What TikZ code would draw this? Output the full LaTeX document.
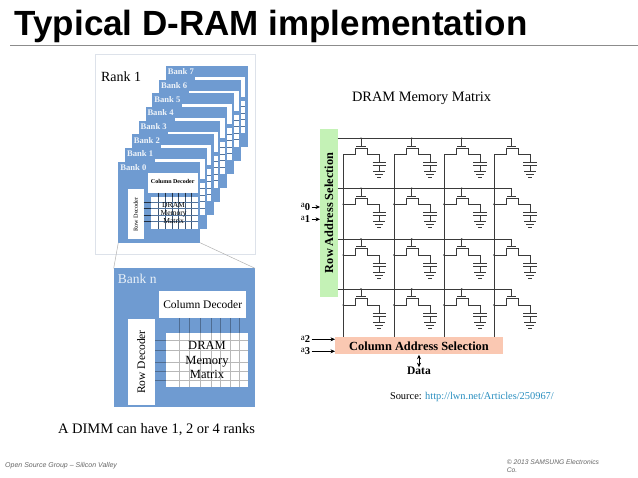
\documentclass[tikz,border=0pt]{standalone}
\usepackage{fontspec}
\setmainfont{Liberation Serif}
\setsansfont{Liberation Sans}
\usetikzlibrary{arrows.meta}
\definecolor{bankblue}{HTML}{6F9BD1}
\definecolor{framegray}{HTML}{DDE2EA}
\definecolor{rowgreen}{HTML}{C4F2B6}
\definecolor{colpeach}{HTML}{FAC8B2}
\definecolor{linkblue}{HTML}{2A8FC0}
\definecolor{wire}{HTML}{3A3A3A}
\tikzset{
  txt/.style={inner sep=0pt,outer sep=0pt,text=black,font=\fontsize{#1}{#1}\selectfont},
  banklabel/.style={inner sep=0pt,anchor=west,text=white!88!bankblue,font=\fontsize{8.6}{9}\selectfont\bfseries},
  wireline/.style={draw=wire,line width=.55pt},
  arrowline/.style={draw=black,line width=.6pt,-{Stealth[length=4.5pt,width=4pt]}},
  leader/.style={draw=black!30,line width=.5pt},
  addr/.style={inner sep=0pt,font=\fontsize{9}{10}\selectfont},
  foot/.style={inner sep=0pt,anchor=west,text=black!60,font=\fontsize{#1}{8}\selectfont\sffamily\itshape},
}
% large bank, local pixel coordinates
\newcommand{\bankbody}[3]{%
  \fill[bankblue] (0,0) rectangle (141.3,139);
  \fill[white] (45.6,23) rectangle (132.3,50);
  \fill[white] (14,50.7) rectangle (41.3,137);
  \fill[white] (52.6,64.4) rectangle (134.3,118.7);
  \foreach \gx in {65.6,75.3,86.6,97.9,106.9,116.6,125.6}{
    \draw[draw=#1,line width=#2] (\gx,50) -- (\gx,64.4);
    \draw[draw=#3,line width=#2] (\gx,64.4) -- (\gx,118.7);
  }
  \foreach \gy in {72.4,81.7,93.7,103,112.4}{
    \draw[draw=#1,line width=#2] (41.3,\gy) -- (52.6,\gy);
    \draw[draw=#3,line width=#2] (52.6,\gy) -- (134.3,\gy);
  }
}
% small bank of the stack, local pixel coordinates
\newcommand{\smallbank}{%
  \fill[bankblue] (0,0) rectangle (81.7,81);
  \fill[white] (29.4,11) rectangle (79.4,31);
  \fill[white] (9.7,27.6) rectangle (25.4,77.6);
  \fill[white] (32.4,35) rectangle (79.4,67);
  \foreach \gx in {40,47,53.7,60,66.7,73.3}{
    \draw[draw=black!70!bankblue,line width=.45pt] (\gx,31) -- (\gx,35);
    \draw[draw=black!45!bankblue,line width=.45pt] (\gx,35) -- (\gx,67);
  }
  \foreach \gy in {40.5,47,53.5,60}{
    \draw[draw=black!70!bankblue,line width=.45pt] (25.4,\gy) -- (32.4,\gy);
    \draw[draw=black!25!bankblue,line width=.6pt] (32.4,\gy) -- (79.4,\gy);
  }
}
\begin{document}
\begin{tikzpicture}[x=1pt,y=-1pt]
\useasboundingbox (0,0) rectangle (638,478);
\fill[white] (0,0) rectangle (638,478);
% title
\node[inner sep=0pt,anchor=base west,font=\fontsize{35}{36}\selectfont\sffamily\bfseries] (title) at (14.5,36) {Typical D-RAM implementation};
\coordinate (ruleL) at (10,45);
\coordinate (ruleR) at (638,45);
\draw[black!45,line width=.6pt] (ruleL) -- (ruleR);
% rank frame
\draw[framegray,line width=.7pt] (95,54) rectangle (255,254);
\node[txt=14,anchor=west] (rank) at (101,77) {Rank 1};
% stack of banks, back to front
\foreach \i in {7,6,...,0}{
  \begin{scope}[shift={({118.3+6.8*\i},{161.7-13.67*\i})}]
    \smallbank
    \coordinate (b\i sw) at (0,81);
    \coordinate (b\i se) at (81.7,81);
    \coordinate (b\i lab) at (1.8,5.9);
  \end{scope}
  \node[banklabel] (banklabel\i) at (b\i lab) {Bank \i};
}
\node[inner sep=0pt,font=\fontsize{6}{6}\selectfont\bfseries] (cd0) at (172.7,181.5) {Column Decoder};
\node[inner sep=0pt,rotate=90,font=\fontsize{6.2}{6}\selectfont] (rd0) at (135.8,214.5) {Row Decoder};
\node[inner sep=0pt,align=center,font=\fontsize{7.6}{8.2}\selectfont] (mm0) at (173.6,213) {DRAM\\Memory\\Matrix};
% bank n
\begin{scope}[shift={(113.7,268.3)}]
  \bankbody{black!30!bankblue}{.5pt}{black!28}
  \coordinate (bnnw) at (0,0);
  \coordinate (bnne) at (141.3,0);
\end{scope}
\draw[leader] (b0sw) -- (bnnw);
\draw[leader] (b0se) -- (bnne);
\node[inner sep=0pt,anchor=west,text=white!85!bankblue,font=\fontsize{13.5}{14}\selectfont] (bankn) at (117.7,278.5) {Bank n};
\node[txt=11.5] (cdn) at (202.7,305) {Column Decoder};
\node[txt=11.5,rotate=90] (rdn) at (141.3,362) {Row Decoder};
\node[inner sep=0pt,align=center,font=\fontsize{12.5}{14.3}\selectfont] (mmn) at (207,360) {DRAM\\Memory\\Matrix};
% captions
\node[txt=14.5,anchor=west] (dimm) at (58,430) {A DIMM can have 1, 2 or 4 ranks};
\node[txt=14.4,anchor=west] (mtitle) at (352,98) {DRAM Memory Matrix};
\node[txt=10.4,anchor=west] (src) at (390,397) {Source: \textcolor{linkblue}{http://lwn.net/Articles/250967/}};
% selection boxes
\fill[rowgreen] (320,129.3) rectangle (337.7,297.3);
\coordinate (greenC) at (328.8,213);
\node[inner sep=0pt,rotate=90,font=\fontsize{12.3}{12}\selectfont\bfseries] (rowsel) at (greenC) {Row Address Selection};
\fill[colpeach] (335,337.3) rectangle (503.3,354);
\coordinate (peachC) at (419,346);
\node[inner sep=0pt,font=\fontsize{12.4}{12}\selectfont\bfseries] (colsel) at (peachC) {Column Address Selection};
% circuit
\foreach \wy in {138.3,188.3,239,289}{
  \draw[wireline] (337.7,\wy) -- (511.7,\wy);
}
\foreach \bx in {343.3,394,444.3,494.5}{
  \draw[wireline] (\bx,154.3) -- (\bx,337.3);
}
\foreach \wy [count=\r] in {138.3,188.3,239,289}{
  \foreach \sx [count=\c] in {361,411.7,461.7,511.7}{
    \begin{scope}[shift={(\sx,\wy)}]
      \draw[wireline] (0,0) -- (0,7.7);
      \draw[wireline,line width=.8pt] (-4.7,7.7) -- (4.7,7.7);
      \draw[wireline] (-17.7,16) -- (-5.7,16) -- (-5.7,9.7) -- (6.7,9.7) -- (6.7,16) -- (18.3,16) -- (18.3,24);
      \draw[wireline,line width=.8pt] (11.6,24) -- (25,24);
      \draw[wireline,line width=.8pt] (11.6,27.3) -- (25,27.3);
      \draw[wireline] (18.3,27.3) -- (18.3,33.3);
      \draw[wireline] (12.3,33.3) -- (24.3,33.3);
      \draw[wireline] (14.3,36.3) -- (22.3,36.3);
      \draw[wireline] (16.3,39.3) -- (20.3,39.3);
      \ifnum\c<4 \fill[wire] (0,0) circle (.9pt); \fi
      \ifnum\r>1 \fill[wire] (-17.7,16) circle (.9pt); \fi
    \end{scope}
  }
}
% address inputs
\node[addr] (a0) at (305.5,207) {a\raisebox{-2.5pt}{\fontsize{10.5}{10}\selectfont\bfseries 0}};
\node[addr] (a1) at (305.5,219.3) {a\raisebox{-2.5pt}{\fontsize{10.5}{10}\selectfont\bfseries 1}};
\node[addr] (a2) at (305.5,339.3) {a\raisebox{-2.5pt}{\fontsize{10.5}{10}\selectfont\bfseries 2}};
\node[addr] (a3) at (305.5,351.3) {a\raisebox{-2.5pt}{\fontsize{10.5}{10}\selectfont\bfseries 3}};
\coordinate (g0) at (320,207);
\coordinate (g1) at (320,219.3);
\coordinate (p2) at (335,339.3);
\coordinate (p3) at (335,351.3);
\draw[arrowline] (a0) ++(6,0) -- (g0);
\draw[arrowline] (a1) ++(6,0) -- (g1);
\draw[arrowline] (a2) ++(6,0) -- (p2);
\draw[arrowline] (a3) ++(6,0) -- (p3);
\node[txt=11.5,font=\fontsize{11.5}{12}\selectfont\bfseries] (data) at (419,371) {Data};
\coordinate (peachS) at (419,354.7);
\draw[draw=black,line width=.7pt,{Stealth[length=4.5pt,width=4pt]}-{Stealth[length=4.5pt,width=4pt]}] (peachS) -- (data.north);
% footer
\node[foot=7] (footL) at (5,465.7) {Open Source Group –  Silicon Valley};
\node[foot=6.7,align=left] (footR) at (506.7,465.8) {© 2013 SAMSUNG Electronics\\Co.};
\end{tikzpicture}
\end{document}
